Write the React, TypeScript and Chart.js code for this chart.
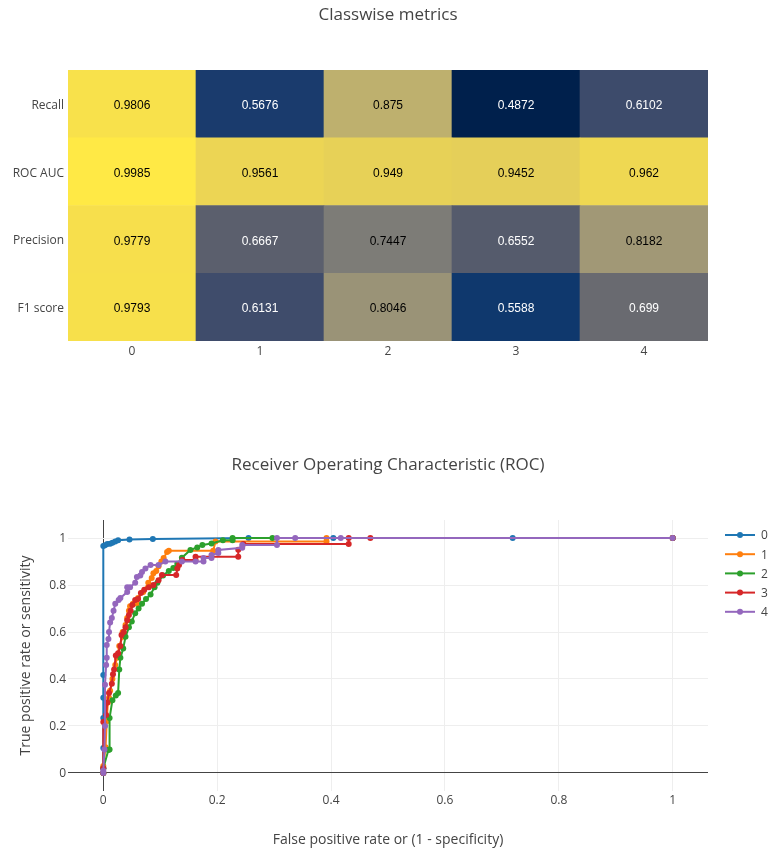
import React, { useEffect, useRef } from 'react';
import { Chart, registerables } from 'chart.js';
Chart.register(...registerables);

// ---------- Heatmap data ----------
const classLabels = ['0', '1', '2', '3', '4'];
const recall = [0.9806, 0.5676, 0.875, 0.4872, 0.6102];
const rocAuc = [0.9985, 0.9561, 0.949, 0.9452, 0.962];
const precision = [0.9779, 0.6667, 0.7447, 0.6552, 0.8182];
const f1Score = [0.9793, 0.6131, 0.8046, 0.5588, 0.699];
// rows listed bottom-to-top (as drawn on the y axis)
const rowNames = ['F1 score', 'Precision', 'ROC AUC', 'Recall'];
const rowValues = [f1Score, precision, rocAuc, recall];
const rowTickValues = [0.5, 1.5, 2.5, 3.5];

// ---------- ROC data ----------
const rocTicks = [0, 0.2, 0.4, 0.6, 0.8, 1];
const rocLabels = ['0', '1', '2', '3', '4'];
const rocColors = ['#1f77b4', '#ff7f0e', '#2ca02c', '#d62728', '#9467bd'];

const fpr0 = [0, 0, 0, 0, 0, 0, 0, 0.003, 0.007, 0.012, 0.016, 0.021, 0.026, 0.046, 0.087, 0.255, 0.404, 0.719, 1];
const tpr0 = [0, 0.02, 0.106, 0.234, 0.32, 0.417, 0.966, 0.969, 0.974, 0.976, 0.98, 0.985, 0.99, 0.994, 0.996, 1, 1, 1, 1];

const fpr1 = [0, 0, 0.004, 0.006, 0.008, 0.01, 0.012, 0.016, 0.021, 0.024, 0.028, 0.034, 0.034, 0.039, 0.042, 0.045, 0.047, 0.052, 0.059, 0.061, 0.07, 0.079, 0.085, 0.088, 0.093, 0.097, 0.102, 0.106, 0.112, 0.115, 0.193, 0.197, 0.392, 0.392, 1];
const tpr1 = [0, 0.03, 0.11, 0.22, 0.3, 0.32, 0.35, 0.4, 0.46, 0.49, 0.54, 0.58, 0.6, 0.63, 0.66, 0.69, 0.71, 0.72, 0.72, 0.745, 0.77, 0.81, 0.83, 0.85, 0.86, 0.88, 0.9, 0.915, 0.94, 0.946, 0.946, 0.985, 0.985, 1, 1];

const fpr2 = [0, 0, 0.009, 0.011, 0.011, 0.016, 0.022, 0.026, 0.028, 0.03, 0.035, 0.039, 0.045, 0.05, 0.056, 0.062, 0.068, 0.075, 0.083, 0.09, 0.095, 0.105, 0.115, 0.123, 0.13, 0.138, 0.153, 0.165, 0.174, 0.19, 0.21, 0.227, 0.227, 0.297, 1];
const tpr2 = [0, 0.02, 0.098, 0.1, 0.234, 0.31, 0.33, 0.34, 0.44, 0.49, 0.53, 0.58, 0.62, 0.645, 0.68, 0.7, 0.72, 0.74, 0.76, 0.79, 0.81, 0.84, 0.86, 0.872, 0.89, 0.916, 0.949, 0.96, 0.97, 0.977, 0.99, 0.99, 1, 1, 1];

const fpr3 = [0, 0, 0, 0.005, 0.007, 0.01, 0.015, 0.017, 0.019, 0.022, 0.026, 0.03, 0.032, 0.036, 0.039, 0.042, 0.045, 0.048, 0.051, 0.056, 0.061, 0.066, 0.072, 0.08, 0.088, 0.097, 0.103, 0.128, 0.13, 0.133, 0.139, 0.162, 0.162, 0.237, 0.237, 0.246, 0.431, 0.431, 0.469, 1];
const tpr3 = [0, 0.02, 0.217, 0.247, 0.3, 0.34, 0.38, 0.42, 0.44, 0.5, 0.51, 0.54, 0.587, 0.6, 0.62, 0.65, 0.672, 0.69, 0.715, 0.736, 0.74, 0.766, 0.78, 0.79, 0.8, 0.82, 0.843, 0.843, 0.87, 0.885, 0.906, 0.906, 0.92, 0.92, 0.95, 0.974, 0.974, 1, 1, 1];

const fpr4 = [0, 0, 0.002, 0.003, 0.003, 0.005, 0.006, 0.006, 0.009, 0.01, 0.012, 0.015, 0.018, 0.021, 0.027, 0.03, 0.042, 0.042, 0.047, 0.056, 0.059, 0.065, 0.068, 0.074, 0.083, 0.097, 0.109, 0.138, 0.162, 0.176, 0.176, 0.19, 0.19, 0.202, 0.202, 0.244, 0.244, 0.305, 0.305, 0.337, 0.417, 1];
const tpr4 = [0, 0.01, 0.1, 0.2, 0.375, 0.46, 0.49, 0.545, 0.57, 0.6, 0.64, 0.66, 0.69, 0.72, 0.736, 0.745, 0.77, 0.79, 0.79, 0.81, 0.834, 0.84, 0.855, 0.87, 0.885, 0.885, 0.9, 0.9, 0.9, 0.9, 0.915, 0.915, 0.928, 0.936, 0.949, 0.958, 0.97, 0.97, 1, 1, 1, 1];

const rocFpr = [fpr0, fpr1, fpr2, fpr3, fpr4];
const rocTpr = [tpr0, tpr1, tpr2, tpr3, tpr4];

// ---------- Cividis colorscale (Plotly) ----------
const cividisStops: [number, number[]][] = [
  [0, [0, 32, 76]], [0.058824, [0, 42, 102]], [0.117647, [0, 52, 110]], [0.176471, [39, 63, 108]],
  [0.235294, [60, 74, 107]], [0.294118, [76, 85, 107]], [0.352941, [91, 95, 109]], [0.411765, [104, 106, 112]],
  [0.470588, [117, 117, 117]], [0.529412, [131, 129, 120]], [0.588235, [146, 140, 120]], [0.647059, [161, 152, 118]],
  [0.705882, [176, 165, 114]], [0.764706, [192, 177, 109]], [0.823529, [209, 191, 102]], [0.882353, [225, 204, 92]],
  [0.941176, [243, 219, 79]], [1, [255, 233, 69]],
];
function cividis(t: number): string {
  const tt = Math.max(0, Math.min(1, t));
  for (let i = 1; i < cividisStops.length; i++) {
    const [t1, c1] = cividisStops[i];
    const [t0, c0] = cividisStops[i - 1];
    if (tt <= t1) {
      const f = (tt - t0) / (t1 - t0);
      const c = c0.map((v, k) => Math.round(v + (c1[k] - v) * f));
      return `rgb(${c[0]},${c[1]},${c[2]})`;
    }
  }
  return 'rgb(255,233,69)';
}

const FONT = '"Open Sans", "DejaVu Sans", sans-serif';

const titlePlugin = {
  id: 'plotTitle',
  afterDraw(chart: any, _args: any, opts: any) {
    const ctx = chart.ctx;
    ctx.save();
    ctx.font = `17px ${FONT}`;
    ctx.fillStyle = '#444';
    ctx.textAlign = 'center';
    ctx.textBaseline = 'middle';
    ctx.fillText(opts.text, opts.x, opts.y);
    ctx.restore();
  },
};

const cellTextPlugin = {
  id: 'cellText',
  afterDatasetsDraw(chart: any) {
    const ctx = chart.ctx;
    const all = rowValues.flat();
    const mid = (Math.min(...all) + Math.max(...all)) / 2;
    ctx.save();
    ctx.font = '12px "Liberation Sans", Arial, sans-serif';
    ctx.textAlign = 'center';
    ctx.textBaseline = 'middle';
    chart.data.datasets.forEach((ds: any, di: number) => {
      const meta = chart.getDatasetMeta(di);
      meta.data.forEach((el: any, i: number) => {
        const v = ds.metricValues[i];
        const p = el.getProps(['x', 'y', 'base'], true);
        ctx.fillStyle = v < mid ? '#ffffff' : '#000000';
        ctx.fillText(String(v), p.x, (p.y + p.base) / 2 + 2);
      });
    });
    ctx.restore();
  },
};

const legendPlugin = {
  id: 'sideLegend',
  afterDraw(chart: any, _args: any, opts: any) {
    const ctx = chart.ctx;
    ctx.save();
    chart.data.datasets.forEach((ds: any, i: number) => {
      const y = opts.y0 + i * opts.dy;
      ctx.strokeStyle = ds.borderColor;
      ctx.lineWidth = 2;
      ctx.beginPath();
      ctx.moveTo(opts.x0, y);
      ctx.lineTo(opts.x0 + 30, y);
      ctx.stroke();
      ctx.fillStyle = ds.borderColor;
      ctx.beginPath();
      ctx.arc(opts.x0 + 15, y, 3, 0, Math.PI * 2);
      ctx.fill();
      ctx.fillStyle = '#444';
      ctx.font = `12px ${FONT}`;
      ctx.textAlign = 'left';
      ctx.textBaseline = 'middle';
      ctx.fillText(ds.label, opts.x0 + 36, y + 1);
    });
    ctx.restore();
  },
};

function heatConfig(): any {
  const all = rowValues.flat();
  const zmin = Math.min(...all);
  const zmax = Math.max(...all);
  return {
    type: 'bar',
    data: {
      labels: classLabels,
      datasets: rowNames.map((name, r) => ({
        label: name,
        data: classLabels.map(() => 1),
        metricValues: rowValues[r],
        backgroundColor: rowValues[r].map((v) => cividis((v - zmin) / (zmax - zmin))),
        borderWidth: 0,
        barPercentage: 1,
        categoryPercentage: 1,
      })),
    },
    plugins: [titlePlugin, cellTextPlugin],
    options: {
      responsive: false,
      devicePixelRatio: 1,
      animation: false,
      layout: { padding: { top: 70, right: 74, left: 0, bottom: 49 } },
      plugins: {
        legend: { display: false },
        tooltip: { enabled: false },
        plotTitle: { text: 'Classwise metrics', x: 388, y: 15 },
      },
      scales: {
        x: {
          type: 'category',
          stacked: true,
          grid: { display: false, drawTicks: false },
          border: { display: false },
          ticks: { color: '#444', font: { family: FONT, size: 12 }, padding: 3, maxRotation: 0 },
          afterFit: (s: any) => { s.height = 30; },
        },
        y: {
          type: 'linear',
          stacked: true,
          min: 0,
          max: rowNames.length,
          grid: { display: false, drawTicks: false },
          border: { display: false },
          afterBuildTicks: (s: any) => { s.ticks = rowTickValues.map((v) => ({ value: v })); },
          ticks: {
            color: '#444',
            font: { family: FONT, size: 12 },
            padding: 4,
            labelOffset: 1.5,
            callback: (v: number) => rowNames[Math.floor(v)],
          },
          afterFit: (s: any) => { s.width = 68; },
        },
      },
    },
  };
}

function rocConfig(): any {
  return {
    type: 'scatter',
    data: {
      datasets: rocLabels.map((label, i) => ({
        label,
        data: rocFpr[i].map((x, k) => ({ x, y: rocTpr[i][k] })),
        showLine: true,
        borderColor: rocColors[i],
        backgroundColor: rocColors[i],
        borderWidth: 2,
        pointRadius: 3,
        pointHoverRadius: 3,
        pointBorderWidth: 0,
        tension: 0,
        order: rocLabels.length - 1 - i,
      })),
    },
    plugins: [titlePlugin, legendPlugin],
    options: {
      responsive: false,
      devicePixelRatio: 1,
      animation: false,
      layout: { padding: { top: 100, right: 74, left: 0, bottom: 0 } },
      plugins: {
        legend: { display: false },
        tooltip: { enabled: false },
        plotTitle: { text: 'Receiver Operating Characteristic (ROC)', x: 388, y: 45.5 },
        sideLegend: { x0: 725, y0: 115, dy: 19.2 },
      },
      scales: {
        x: {
          type: 'linear',
          min: -0.062,
          max: 1.062,
          afterBuildTicks: (s: any) => { s.ticks = rocTicks.map((v) => ({ value: v })); },
          grid: {
            color: (c: any) => (c.tick && c.tick.value === 0 ? '#444444' : '#eeeeee'),
            lineWidth: 1,
            drawTicks: false,
          },
          border: { display: false },
          ticks: {
            color: '#444',
            font: { family: FONT, size: 12 },
            padding: 2,
            maxRotation: 0,
            autoSkip: false,
            callback: (v: number) => String(v),
          },
          title: {
            display: true,
            text: 'False positive rate or (1 - specificity)',
            color: '#444',
            font: { family: FONT, size: 14 },
            padding: { top: 0, bottom: 19 },
          },
          afterFit: (s: any) => { s.height = 76; },
        },
        y: {
          type: 'linear',
          min: -0.0766,
          max: 1.0766,
          afterBuildTicks: (s: any) => { s.ticks = rocTicks.map((v) => ({ value: v })); },
          grid: {
            color: (c: any) => (c.tick && c.tick.value === 0 ? '#444444' : '#eeeeee'),
            lineWidth: 1,
            drawTicks: false,
          },
          border: { display: false },
          ticks: {
            color: '#444',
            font: { family: FONT, size: 12 },
            padding: 2,
            labelOffset: 1,
            autoSkip: false,
            callback: (v: number) => String(v),
          },
          title: {
            display: true,
            text: 'True positive rate or sensitivity',
            color: '#444',
            font: { family: FONT, size: 14 },
            padding: { top: 18, bottom: 0 },
          },
          afterFit: (s: any) => { s.width = 68; },
        },
      },
    },
  };
}

export default function App() {
  const heatRef = useRef<HTMLCanvasElement>(null);
  const rocRef = useRef<HTMLCanvasElement>(null);
  useEffect(() => {
    const c1 = new Chart(heatRef.current as HTMLCanvasElement, heatConfig());
    const c2 = new Chart(rocRef.current as HTMLCanvasElement, rocConfig());
    return () => {
      c1.destroy();
      c2.destroy();
    };
  }, []);
  return (
    <div style={{ position: 'absolute', left: 0, top: 0, width: 782, height: 867, background: '#fff' }}>
      <canvas ref={heatRef} width={782} height={420} style={{ position: 'absolute', left: 0, top: 0 }} />
      <canvas ref={rocRef} width={782} height={447} style={{ position: 'absolute', left: 0, top: 420 }} />
    </div>
  );
}
